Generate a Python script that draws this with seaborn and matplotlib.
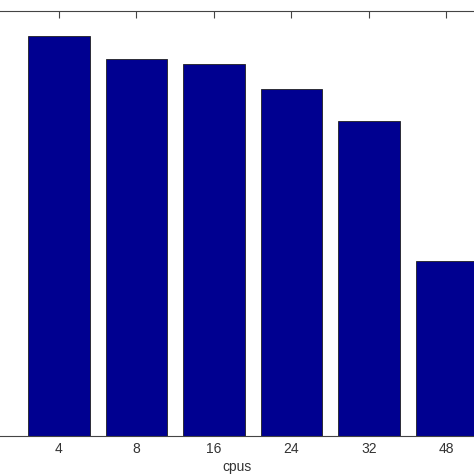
import matplotlib
matplotlib.use('Agg')
import matplotlib.pyplot as plt
import seaborn as sns
import pandas as pd

# cpus vs. relative value (top of axes = 1.0)
cpus = ['4', '8', '16', '24', '32', '48']
values = [0.941, 0.887, 0.875, 0.816, 0.741, 0.412]

df = pd.DataFrame({'cpus': cpus, 'value': values})

sns.set_style('white')
plt.rcParams['font.family'] = ['Liberation Sans', 'DejaVu Sans']

fig = plt.figure(figsize=(4.74, 4.74), dpi=100)
# axes runs past the left and right edges of the picture
ax = fig.add_axes([0.0, 38 / 474, 1.0, 425 / 474])

sns.barplot(data=df, x='cpus', y='value', color='#000090', saturation=1,
            width=0.79, edgecolor='#202020', linewidth=0.6, ax=ax)

ax.set_xlim(-0.761, 5.355)
ax.set_ylim(0, 1)
ax.set_yticks([])
ax.set_ylabel('')
ax.set_xlabel('cpus', fontsize=10, color='#333333', labelpad=3)

for side in ['left', 'right']:
    ax.spines[side].set_visible(False)
for side in ['top', 'bottom']:
    ax.spines[side].set_color('#444444')
    ax.spines[side].set_linewidth(0.8)

ax.tick_params(axis='x', direction='in', length=5, width=0.8, color='#444444',
               top=True, bottom=True, labelsize=10, labelcolor='#333333', pad=4)

fig.savefig('out.png', dpi=100)
